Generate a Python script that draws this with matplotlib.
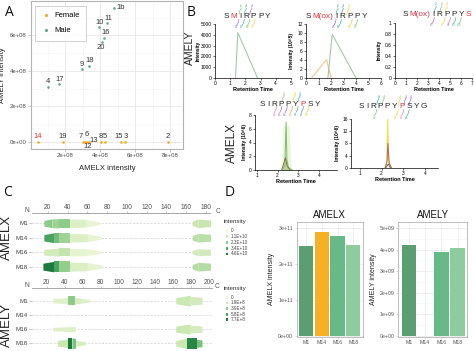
import matplotlib
matplotlib.use("Agg")
import matplotlib.pyplot as plt
from matplotlib.lines import Line2D
from matplotlib.patches import Rectangle
from matplotlib.colors import LinearSegmentedColormap, Normalize
from matplotlib.offsetbox import TextArea, HPacker, AnnotationBbox

plt.rcParams['font.family'] = ['Liberation Sans', 'DejaVu Sans']

# ---------------- DATA ----------------
# Panel A
sample_names = ['14', '19', '7', '6', '12', '13', '8', '5', '15', '3', '2',
                '1b', '10', '11', '16', '20', '9', '18', '4', '17']
sample_sex = ['Female'] * 11 + ['Male'] * 9
amelx_int = [0.44e8, 1.87e8, 3.0e8, 3.14e8, 3.27e8, 3.39e8, 4.04e8, 4.3e8, 5.18e8, 5.43e8, 7.87e8,
             4.82e8, 3.96e8, 4.42e8, 4.23e8, 4.11e8, 2.95e8, 3.35e8, 1.05e8, 1.64e8]
amely_int = [0] * 11 + [7.57e8, 6.46e8, 6.69e8, 5.88e8, 5.63e8, 4.10e8, 4.28e8, 3.10e8, 3.28e8]

# Panel B chromatograms (retention time, intensity)
b1_green_t = [1.35, 1.5, 2.8]
b1_green_i = [0, 4200, 0]
b2_orange_t = [0.45, 1.65, 2.0]
b2_orange_i = [0, 4.1, 0]
b2_green_t = [1.75, 2.1, 4.0]
b2_green_i = [0, 9.7, 0]
b4_green_t = [2.2, 2.35, 2.41, 2.45, 2.52, 2.7]
b4_green_i = [0, 0.6, 7.0, 1.5, 0.4, 0]
b4_brown_t = [2.2, 2.3, 2.38, 2.46, 2.6]
b4_brown_i = [0, 1.0, 1.8, 0.6, 0]
b4_band_t = [2.2, 2.27, 2.55, 2.65]
b4_band_i = [0, 6.5, 6.5, 0]
b5_yellow_t = [2.15, 2.24, 2.28, 2.33, 2.45]
b5_yellow_i = [0, 2.0, 16.0, 2.0, 0]
b5_red_t = [2.17, 2.25, 2.29, 2.35, 2.45]
b5_red_i = [0, 2.0, 8.0, 1.5, 0]
b5_dark_t = [2.2, 2.27, 2.31, 2.4]
b5_dark_i = [0, 0.8, 1.2, 0]

# Panel C coverage: (start, end, intensity, width_start, width_end)
rows = ['M1', 'M14', 'M16', 'M18']
amelx_cov = {
    'M1': [(16, 24, 2.3e10, .20, .30), (24, 31, 2.0e10, .30, .32), (31, 42, 2.3e10, .33, .33),
           (42, 58, 0.6e10, .30, .27), (58, 72, 0.25e10, .27, .10),
           (166, 172, 1.2e10, .15, .30), (172, 185, 1.2e10, .30, .22)],
    'M14': [(16, 26, 3.6e10, .22, .34), (26, 31, 2.8e10, .34, .34), (31, 42, 2.0e10, .34, .34),
            (42, 60, 0.6e10, .30, .27), (60, 74, 0.25e10, .27, .10),
            (166, 172, 1.5e10, .15, .30), (172, 185, 1.5e10, .30, .24)],
    'M16': [(16, 31, 0.9e10, .20, .28), (31, 42, 1.3e10, .28, .28), (42, 58, 0.3e10, .26, .24),
            (58, 74, 0.15e10, .24, .10), (166, 172, 0.9e10, .12, .24), (172, 185, 0.9e10, .24, .20)],
    'M18': [(15, 26, 4.6e10, .24, .36), (26, 31, 3.6e10, .36, .36), (31, 42, 2.2e10, .36, .36),
            (42, 60, 0.7e10, .32, .28), (60, 75, 0.3e10, .28, .10),
            (166, 172, 1.6e10, .15, .30), (172, 185, 1.6e10, .30, .24)],
}
amely_cov = {
    'M1': [(27, 44, 0.8e8, .15, .22), (44, 51, 3.9e8, .33, .33), (51, 58, 1.3e8, .22, .18),
           (58, 68, 0.8e8, .18, .08), (163, 179, 1.9e8, .22, .38), (179, 192, 1.5e8, .30, .24)],
    'M14': [],
    'M16': [(27, 52, 0.9e8, .12, .20), (163, 179, 1.9e8, .22, .35), (179, 192, 1.4e8, .28, .22)],
    'M18': [(32, 44, 1.9e8, .20, .30), (44, 48, 7.7e8, .38, .38), (48, 52, 4.5e8, .38, .34),
            (52, 63, 1.2e8, .22, .10), (163, 175, 1.9e8, .20, .36), (175, 186, 7.2e8, .38, .38),
            (186, 192, 4.5e8, .28, .24)],
}
legX_vals = [0, 1.1e10, 2.3e10, 3.4e10, 4.6e10]
legX_labels = ['0', '1.1E+10', '2.3E+10', '3.4E+10', '4.6E+10']
legY_vals = [0, 1.9e8, 3.9e8, 5.8e8, 7.7e8]
legY_labels = ['0', '1.9E+8', '3.9E+8', '5.8E+8', '7.7E+8']

# Panel D
samples = ['M1', 'M14', 'M16', 'M18']
amelx_total = [2.49e11, 2.90e11, 2.77e11, 2.53e11]
amely_total = [4.22e9, 0, 3.88e9, 4.08e9]
bar_colors = ['#5b9e70', '#f5b024', '#67b987', '#8ccc9d']

# ---------------- FIGURE ----------------
W, H = 474, 351
fig = plt.figure(figsize=(W / 100, H / 100), dpi=100)


def add_ax(x0, y0, x1, y1):
    return fig.add_axes([x0 / W, 1 - y1 / H, (x1 - x0) / W, (y1 - y0) / H])


def ftext(x, y, s, **kw):
    kw.setdefault('ha', 'center')
    kw.setdefault('va', 'center')
    return fig.text(x / W, 1 - y / H, s, **kw)


def fline(xs, ys, **kw):
    fig.add_artist(Line2D([x / W for x in xs], [1 - y / H for y in ys],
                          transform=fig.transFigure, **kw))


# panel letters
for letter, (lx, ly) in {'A': (9, 13), 'B': (191, 12), 'C': (7, 193), 'D': (230, 193)}.items():
    ftext(lx, ly, letter, fontsize=10, family='Open Sans', color='#111111')

# ---------------- Panel A ----------------
axA = add_ax(31, 1, 183, 149)
axA.set_xlim(0.057e8, 8.74e8)
axA.set_ylim(-0.394e8, 7.94e8)
axA.set_xticks([2e8, 4e8, 6e8, 8e8])
axA.set_yticks([0, 2e8, 4e8, 6e8])
axA.set_xticks([1e8, 3e8, 5e8, 7e8], minor=True)
axA.set_yticks([1e8, 3e8, 5e8, 7e8], minor=True)
axA.set_xticklabels(['2e+08', '4e+08', '6e+08', '8e+08'])
axA.set_yticklabels(['0e+00', '2e+08', '4e+08', '6e+08'])
axA.grid(True, which='major', color='#e6e6e6', lw=0.6)
axA.grid(True, which='minor', color='#f3f3f3', lw=0.4)
axA.set_axisbelow(True)
for s in axA.spines.values():
    s.set_color('#b3b3b3'); s.set_linewidth(0.8)
axA.tick_params(which='major', labelsize=4.3, labelcolor='#4d4d4d', length=2, width=0.5,
                color='#b3b3b3', pad=1.2)
axA.tick_params(which='minor', length=0)
axA.set_xlabel('AMELX intensity', fontsize=5.5, color='#222222')
axA.set_ylabel('AMELY intensity', fontsize=5.5, color='#222222')
axA.xaxis.set_label_coords(0.5, -0.108)
axA.yaxis.set_label_coords(-0.165, 0.5)

sex_color = {'Female': '#f2a91f', 'Male': '#5fa78a'}
for sex in ['Female', 'Male']:
    xs = [x for x, s in zip(amelx_int, sample_sex) if s == sex]
    ys = [y for y, s in zip(amely_int, sample_sex) if s == sex]
    axA.scatter(xs, ys, s=3.5, color=sex_color[sex], label=sex, zorder=3, linewidths=0)

label_off = {'14': (0, 5.3), '19': (0, 5.3), '7': (-1.5, 5.3), '6': (1.5, 7.5), '12': (0, -4.5),
             '13': (4.5, 1.5), '8': (0, 5.3), '5': (0, 5.3), '15': (-2, 5.3), '3': (0.5, 5.3),
             '2': (0, 5.3), '1b': (6, 0.3), '10': (0.5, 4.8), '11': (1, 5), '16': (2, 5),
             '20': (-1, -5.7), '9': (0, 5), '18': (1.5, 5), '4': (0, 5.3), '17': (0.7, 4.7)}
for n, x, y in zip(sample_names, amelx_int, amely_int):
    dx, dy = label_off[n]
    axA.annotate(n, (x, y), xytext=(dx * 0.72, dy * 0.72), textcoords='offset points',
                 ha='center', va='center', fontsize=5.5,
                 color='#e2372d' if n == '14' else '#333333', zorder=4)
leg = axA.legend(loc='upper left', bbox_to_anchor=(0.026, 0.966), borderaxespad=0,
                 fontsize=5.5, frameon=True, fancybox=False, edgecolor='#bdbdbd',
                 handletextpad=0.6, labelspacing=1.0, borderpad=0.8, markerscale=1.2,
                 handlelength=1.2)
leg.get_frame().set_linewidth(0.6)

# ---------------- Panel B ----------------
ftext(190, 48, 'AMELY', fontsize=7.5, rotation=90, color='#222222')
ftext(232, 143, 'AMELX', fontsize=8.5, rotation=90, color='#222222')


def matlab_ax(ax, xt, yt, ytl=None):
    for s in ['top', 'right']:
        ax.spines[s].set_visible(False)
    for s in ['left', 'bottom']:
        ax.spines[s].set_linewidth(0.5)
    ax.set_xticks(xt)
    ax.set_yticks(yt)
    if ytl is not None:
        ax.set_yticklabels(ytl)
    ax.tick_params(labelsize=3.5, length=1.5, width=0.4, pad=0.8)
    ax.set_xlabel('Retention Time', fontsize=4, fontweight='bold', labelpad=0.5)


axB1 = add_ax(215, 24, 291, 78)
axB1.set_xlim(0, 5); axB1.set_ylim(0, 5000)
axB1.plot(b1_green_t, b1_green_i, color='#a3c9a3', lw=0.8)
matlab_ax(axB1, range(0, 6), range(0, 5001, 1000))

axB2 = add_ax(306, 24, 381, 78)
axB2.set_xlim(0, 6); axB2.set_ylim(0, 12)
axB2.plot(b2_orange_t, b2_orange_i, color='#f2c48e', lw=0.8)
axB2.plot(b2_green_t, b2_green_i, color='#a3c9a3', lw=0.8)
matlab_ax(axB2, range(0, 7), range(0, 13, 2))

axB3 = add_ax(395, 23, 472, 78)
axB3.set_xlim(0, 7); axB3.set_ylim(0, 1)
matlab_ax(axB3, range(0, 8), [0, 0.2, 0.4, 0.6, 0.8, 1], ['0', '0.2', '0.4', '0.6', '0.8', '1'])

axB4 = add_ax(255, 115, 337, 170)
axB4.set_xlim(0.92, 4.85); axB4.set_ylim(0, 8)
axB4.fill_between(b4_band_t, b4_band_i, color='#dcefc6', alpha=0.6, lw=0)
axB4.plot(b4_green_t, b4_green_i, color='#7dbf68', lw=0.7)
axB4.fill_between(b4_brown_t, b4_brown_i, color='#9aa86a', alpha=0.5, lw=0)
axB4.plot(b4_brown_t, b4_brown_i, color='#7a6a3a', lw=0.6)
matlab_ax(axB4, [1, 2, 3, 4], [0, 2, 4, 6, 8])

axB5 = add_ax(351, 119, 438, 167.7)
axB5.set_xlim(0.59, 4.6); axB5.set_ylim(0, 16)
axB5.plot(b5_yellow_t, b5_yellow_i, color='#efdf4a', lw=0.8)
axB5.plot(b5_red_t, b5_red_i, color='#b5645a', lw=0.7)
axB5.plot(b5_dark_t, b5_dark_i, color='#555555', lw=0.6)
axB5.axhline(0.05, color='#8a8a8a', lw=0.4)
matlab_ax(axB5, [1, 2, 3, 4], [0, 4, 8, 12, 16])

for (x, y, s) in [(198, 51, 'Intensity'), (292, 51, 'Intensity (10^5)'), (379, 50, 'Intensity'),
                  (244, 142, 'Intensity (10^6)'), (338, 143, 'Intensity (10^6)')]:
    ftext(x, y, s, fontsize=3.5, fontweight='bold', rotation=90)


def peptide(cx, cy, tokens, colors, fs=5.9):
    boxes = [TextArea(t, textprops=dict(color=c, fontsize=fs)) for t, c in zip(tokens, colors)]
    pk = HPacker(children=boxes, align='baseline', pad=0, sep=1.3)
    ab = AnnotationBbox(pk, (cx / W, 1 - cy / H), xycoords='figure fraction', frameon=False,
                        box_alignment=(0.5, 0.5), pad=0)
    fig.add_artist(ab)


def frags(cx, cy, nchar, above, below, adv=5.4):
    left = cx - nchar * adv / 2
    for g, c in above:
        gx = left + g * adv
        fline([gx, gx + 0.8, gx + 2.2], [cy - 2.5, cy - 6, cy - 8.5], color=c, lw=0.5)
        ftext(gx + 2.5, cy - 10.5, 'y%d' % (nchar - g), fontsize=2.2, color=c)
    for g, c in below:
        gx = left + g * adv
        fline([gx, gx - 0.8, gx - 2.2], [cy + 2.5, cy + 6, cy + 8.5], color=c, lw=0.5)
        ftext(gx - 2.5, cy + 10.5, 'b%d' % g, fontsize=2.2, color=c)


K = '#222222'; R = '#e5303a'
cG, cT, cP, cY, cO, cK, cB = '#7cc47a', '#47b3a8', '#a26bd0', '#f0d23c', '#f2a03a', '#e07ab8', '#5a8fd8'

peptide(247, 17, list('SMIRPPY'), [K, R, K, K, K, K, K])
frags(247, 17, 7, [(2, cG), (3, cT), (4, cP)], [(2, cP), (3, cT), (4, cG), (5, cY)])
peptide(336, 17, ['S', 'M(ox)', 'I', 'R', 'P', 'P', 'Y'], [K, R, K, K, K, K, K])
frags(336, 17, 10, [(5, cT), (6, cB), (7, cY)], [(5, cP), (6, cT), (8, cY), (9, cG)])
peptide(437, 15, ['S', 'M(ox)', 'I', 'R', 'P', 'P', 'Y', 'S'], [K, R, K, K, K, K, K, R])
frags(437, 15, 11, [(5, cT), (6, cG), (7, cY)], [(5, cP), (7, cY), (8, cK), (9, cT), (10, cG)])
peptide(290, 104, list('SIRPPYPSY'), [K, K, K, K, K, K, R, K, K])
frags(290, 104, 9, [(3, cG), (5, cY), (6, cT)], [(2, cK), (3, cP), (4, cP), (5, cO), (6, cT), (7, cB), (8, cY)])
peptide(393, 107, list('SIRPPYPSYG'), [K, K, K, K, K, K, R, K, K, K])
frags(393, 107, 10, [(2, cT), (3, cG), (6, cY), (7, cP), (8, cP)], [(2, cG), (6, cY), (7, cK), (8, cT)])

# ---------------- Panel C ----------------
ftext(7, 237, 'AMELX', fontsize=9.5, rotation=90, color='#222222')
ftext(7, 325, 'AMELY', fontsize=9.5, rotation=90, color='#222222')

cmap = LinearSegmentedColormap.from_list('cov', ['#eff7dc', '#cbe7b2', '#8fcc8c', '#4fa866', '#1d7a3c'])
normX = Normalize(0, 4.6e10)
normY = Normalize(0, 7.7e8)


def coverage_ax(ax, cov, norm, xlim, ylim, xt):
    ax.set_xlim(*xlim); ax.set_ylim(*ylim)
    for i, r in enumerate(rows):
        ax.axhline(i, color='#cfcfcf', lw=0.5, ls=(0, (3, 2)), zorder=1)
        for (s, e, v, w0, w1) in cov[r]:
            ax.fill_between([s, e], [i - w0, i - w1], [i + w0, i + w1],
                            color=cmap(norm(v)), lw=0, zorder=2)
    for s in ['left', 'right', 'bottom']:
        ax.spines[s].set_visible(False)
    ax.spines['top'].set_color('#9a9a9a'); ax.spines['top'].set_linewidth(0.6)
    ax.xaxis.tick_top()
    ax.set_xticks(xt)
    ax.set_yticks(range(4))
    ax.set_yticklabels(rows)
    ax.tick_params(axis='x', labelsize=4.8, labelcolor='#555555', length=1.5, width=0.4,
                   color='#9a9a9a', pad=0.5)
    ax.tick_params(axis='y', labelsize=4.5, labelcolor='#444444', length=2, width=0.4,
                   color='#9a9a9a', pad=1)


axCX = add_ax(32, 213.3, 210, 272)
coverage_ax(axCX, amelx_cov, normX, (4, 184), (3.37, -0.69), range(20, 181, 20))
axCY = add_ax(32, 288.3, 212, 350)
coverage_ax(axCY, amely_cov, normY, (3.8, 203.1), (3.47, -0.87), range(20, 201, 20))
for y, (xn, xc) in [(210, (27, 218)), (285.5, (27, 217))]:
    ftext(xn, y, 'N', fontsize=4.8, color='#555555')
    ftext(xc, y + 1.5, 'C', fontsize=4.8, color='#555555')


def manual_legend(x, y0, vals, labels, norm, dy):
    ftext(x, y0, 'intensity', fontsize=4.5, ha='left', color='#333333')
    for k, (v, lab) in enumerate(zip(vals, labels)):
        yy = y0 + 9 + dy * k
        fig.add_artist(Rectangle(((x + 1.5) / W, 1 - (yy + 1.4) / H), 2.8 / W, 2.8 / H,
                                 transform=fig.transFigure, color=cmap(norm(v)), lw=0))
        ftext(x + 7, yy, lab, fontsize=3.3, ha='left', color='#444444')


manual_legend(224, 221.7, legX_vals, legX_labels, normX, 5.8)
manual_legend(224, 288.3, legY_vals, legY_labels, normY, 5.6)

# ---------------- Panel D ----------------


def bar_ax(ax, vals, ylim, yt, ytl, title, ylabel, xlim):
    ax.set_xlim(*xlim); ax.set_ylim(*ylim)
    ax.set_yticks(yt); ax.set_yticklabels(ytl)
    ax.set_yticks([(a + b) / 2 for a, b in zip(yt[:-1], yt[1:])], minor=True)
    ax.grid(True, which='major', color='#ebebeb', lw=0.6)
    ax.grid(True, which='minor', color='#f5f5f5', lw=0.4)
    ax.set_axisbelow(True)
    ax.bar(range(len(samples)), vals, width=0.9, color=bar_colors, zorder=2)
    ax.set_xticks(range(len(samples)))
    ax.set_xticklabels(samples)
    for s in ax.spines.values():
        s.set_color('#bdbdbd'); s.set_linewidth(0.7)
    ax.tick_params(which='major', labelsize=3.8, labelcolor='#555555', length=1.5, width=0.4,
                   color='#bdbdbd', pad=1)
    ax.tick_params(which='minor', length=0)
    ax.set_title(title, fontsize=7, pad=2.5, color='#111111')
    ax.set_ylabel(ylabel, fontsize=5, color='#222222', labelpad=2)


axD1 = add_ax(296.7, 221.7, 362.7, 336.7)
bar_ax(axD1, amelx_total, (-0.03e11, 3.18e11), [0, 1e11, 2e11, 3e11],
       ['0e+00', '1e+11', '2e+11', '3e+11'], 'AMELX', 'AMELX intensity', (-0.6, 3.6))
axD2 = add_ax(398.3, 221.7, 467.3, 336.7)
bar_ax(axD2, amely_total, (-0.047e9, 5.3e9), [0, 1e9, 2e9, 3e9, 4e9, 5e9],
       ['0e+00', '1e+09', '2e+09', '3e+09', '4e+09', '5e+09'], 'AMELY', 'AMELY intensity',
       (-0.65, 3.6))

fig.savefig('out.png', dpi=100)
